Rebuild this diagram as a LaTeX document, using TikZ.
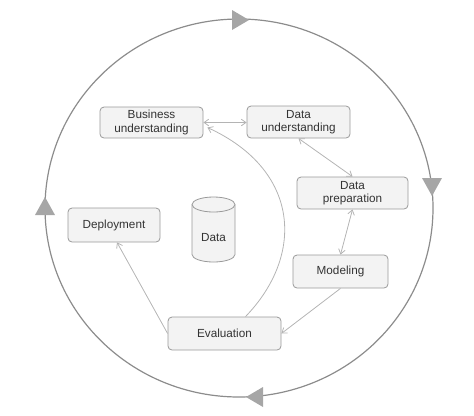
\documentclass[tikz,border=0pt]{standalone}
\usepackage{fontspec}
\setmainfont{Liberation Sans}
\usetikzlibrary{arrows.meta,calc}
\definecolor{boxfill}{HTML}{F3F3F3}
\definecolor{boxline}{HTML}{9A9A9A}
\definecolor{txt}{HTML}{333333}
\definecolor{conn}{HTML}{B4B4B4}
\definecolor{ring}{HTML}{8C8C8C}
\definecolor{tri}{HTML}{A6A6A6}
\tikzset{
  stagebox/.style={draw=boxline, fill=boxfill, rounded corners=3pt, line width=0.6pt,
    text=txt, font=\fontsize{8.8}{10}\selectfont, align=center, inner sep=1pt},
  conline/.style={draw=conn, line width=0.6pt},
  tip/.style={-{Straight Barb[length=3.5pt,width=5pt]}},
  bothtip/.style={{Straight Barb[length=3.5pt,width=5pt]}-{Straight Barb[length=3.5pt,width=5pt]}},
  ringtri/.style={fill=tri}
}
\begin{document}
\begin{tikzpicture}[x=0.75pt,y=-0.75pt]
\useasboundingbox (0,0) rectangle (474,415);
% outer cycle
\draw[ring, line width=0.9pt] (239,208) ellipse [x radius=145.5pt, y radius=141.75pt];
\fill[ringtri] (249,20) -- (232,10) -- (232,30) -- cycle;
\fill[ringtri] (432,196) -- (422,178) -- (442,178) -- cycle;
\fill[ringtri] (246,397) -- (263,387) -- (263,407) -- cycle;
\fill[ringtri] (45,197) -- (35,215) -- (55,215) -- cycle;
% stages
\node[stagebox, minimum width=103*0.75pt, minimum height=31*0.75pt] (bu) at (151.5,122.5) {Business\\understanding};
\node[stagebox, minimum width=103*0.75pt, minimum height=32*0.75pt] (du) at (298.5,122) {Data\\understanding};
\node[stagebox, minimum width=111*0.75pt, minimum height=32*0.75pt] (dp) at (352.5,193) {Data\\preparation};
\node[stagebox, minimum width=95*0.75pt, minimum height=33*0.75pt] (mo) at (340.5,271.5) {Modeling};
\node[stagebox, minimum width=113*0.75pt, minimum height=33*0.75pt] (ev) at (224.5,333.5) {Evaluation};
\node[stagebox, minimum width=92*0.75pt, minimum height=34*0.75pt] (de) at (114,225) {Deployment};
% data cylinder
\draw[boxline, fill=boxfill, line width=0.6pt]
  (192,204.5) -- (192,254.5) arc[start angle=180, end angle=360, x radius=16.125pt, y radius=5.625pt]
  -- (235,204.5) arc[start angle=0, end angle=180, x radius=16.125pt, y radius=5.625pt] -- cycle;
\draw[boxline, line width=0.6pt] (192,204.5) arc[start angle=180, end angle=360, x radius=16.125pt, y radius=5.625pt];
\node[text=txt, font=\fontsize{8.8}{10}\selectfont] (data) at (213.5,238) {Data};
% connectors
\draw[conline, bothtip] (bu.east) -- (bu.east -| du.west);
\draw[conline, bothtip] (du.south) -- (dp.north);
\draw[conline, bothtip] (dp.south) -- (mo.north);
\draw[conline, tip] (mo.south) -- (ev.east);
\draw[conline, tip] (ev.west) -- ($(de.south)+(3,0)$);
\coordinate (evtop) at ($(ev.north)+(21,0)$);
\coordinate (buend) at ($(bu.east)+(4,5)$);
\draw[conline, tip] (evtop) .. controls (305,255) and (300,170) .. (buend);
\end{tikzpicture}
\end{document}
